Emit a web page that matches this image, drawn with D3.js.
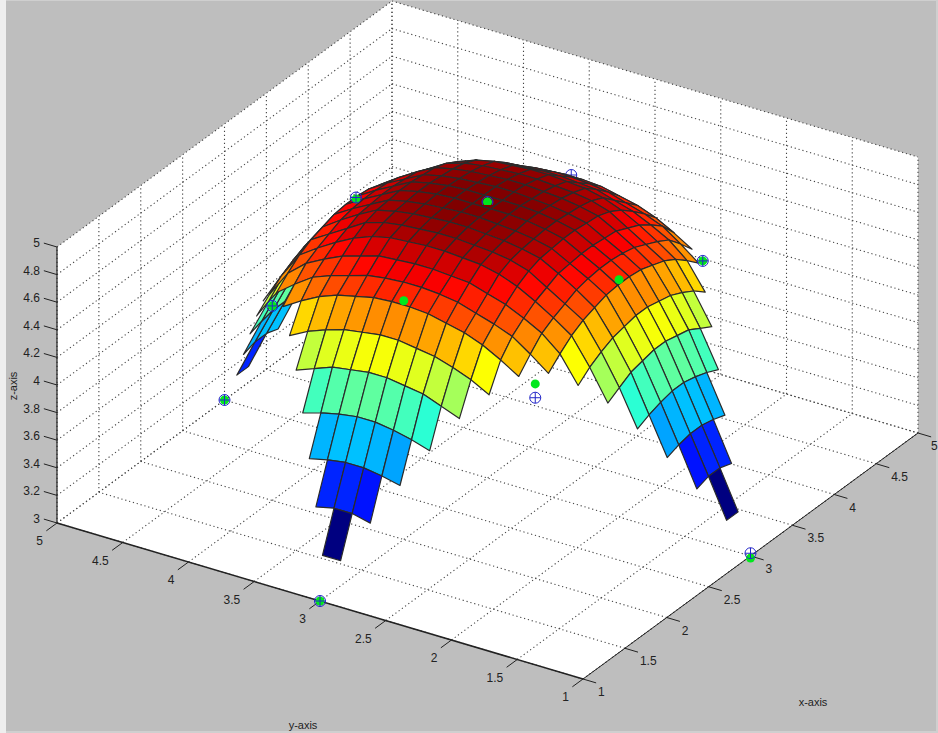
<!DOCTYPE html>
<html>
<head>
    <title>Surface</title>
    <script src="https://d3js.org/d3.v7.min.js"></script>
    <style>
        html, body { margin: 0; padding: 0; background: #cfcfcf; overflow: hidden; }
        text { font-family: "Liberation Sans", Arial, sans-serif; fill: #222; }
    </style>
</head>
<body>
    <div id="chart"></div>
    <script>
        const width = 938;
        const height = 733;

        const xTicks = [1, 1.5, 2, 2.5, 3, 3.5, 4, 4.5, 5];
        const yTicks = [1, 1.5, 2, 2.5, 3, 3.5, 4, 4.5, 5];
        const zTicks = [3, 3.2, 3.4, 3.6, 3.8, 4, 4.2, 4.4, 4.6, 4.8, 5];

        // one quarter of the surface, row = grid lines away from the middle in x,
        // column = grid lines away from the middle in y (grid is 30 x 30 over 1..5)
        const surfaceQuarter = [
            [5.00, 5.00, 4.99, 4.97, 4.94, 4.87, 4.80, 4.72, 4.54, 4.33, 4.07, 3.80, 3.53, 3.25],
            [5.00, 4.99, 4.98, 4.96, 4.93, 4.86, 4.79, 4.71, 4.52, 4.31, 4.05, 3.78, 3.50],
            [4.99, 4.98, 4.97, 4.95, 4.92, 4.85, 4.77, 4.68, 4.50, 4.29, 4.02, 3.75],
            [4.97, 4.96, 4.95, 4.93, 4.89, 4.81, 4.73, 4.65, 4.46, 4.24, 3.98],
            [4.94, 4.93, 4.92, 4.89, 4.84, 4.77, 4.69, 4.60, 4.41, 4.19],
            [4.87, 4.86, 4.85, 4.81, 4.77, 4.71, 4.64, 4.53, 4.34],
            [4.80, 4.79, 4.77, 4.73, 4.69, 4.64, 4.55, 4.45],
            [4.72, 4.71, 4.68, 4.65, 4.60, 4.53, 4.45],
            [4.54, 4.52, 4.50, 4.46, 4.41, 4.34],
            [4.33, 4.31, 4.29, 4.24, 4.19],
            [4.07, 4.05, 4.02, 3.98],
            [3.80, 3.78, 3.75],
            [3.53, 3.50],
            [3.25]
        ];
        const gridSize = 30;

        // measured points [x, y, z]
        const greenPoints = [[3, 5, 3], [2, 4, 4.41], [2, 3, 4.73], [3, 2, 4.72], [2, 2, 4.41], [1, 3, 3], [3, 1, 2.985], [4, 2, 4.41], [3, 4, 4.74]];
        const bluePoints = [[3, 5, 3], [3, 4, 4.75], [4, 2, 4.41], [2, 2, 4.31], [1, 3, 3], [3, 1, 3.02], [2, 4, 4.41]];
        const peakPoint = [3, 3, 5];
        const hiddenPoint = [4, 3, 4.75];

        const jetStops = [0, 0.125, 0.375, 0.625, 0.875, 1];
        const jetColors = ['#000080', '#0000ff', '#00ffff', '#ffff00', '#ff0000', '#800000'];

        // Box corners in the picture give the parallel projection
        const xToH = d3.scaleLinear().domain([1, 5]).range([0, 335]);
        const xToV = d3.scaleLinear().domain([1, 5]).range([0, -246]);
        const yToH = d3.scaleLinear().domain([1, 5]).range([0, -526]);
        const yToV = d3.scaleLinear().domain([1, 5]).range([0, -156]);
        const zToV = d3.scaleLinear().domain([3, 5]).range([0, -276]);
        const originX = 583;
        const originY = 679;

        function project(x, y, z) {
            return [originX + xToH(x) + yToH(y), originY + xToV(x) + yToV(y) + zToV(z)];
        }

        const gridToValue = d3.scaleLinear().domain([0, gridSize - 1]).range([1, 5]);
        const colorPos = d3.scaleLinear().domain([3.25, 5]).range([0, 1]);
        const jet = d3.scaleLinear().domain(jetStops).range(jetColors);

        function zAt(i, j) {
            const a = i < gridSize / 2 ? gridSize / 2 - 1 - i : i - gridSize / 2;
            const b = j < gridSize / 2 ? gridSize / 2 - 1 - j : j - gridSize / 2;
            const row = surfaceQuarter[a];
            return row && row[b] !== undefined ? row[b] : null;
        }

        const svg = d3.select('#chart')
            .append('svg')
            .attr('width', width)
            .attr('height', height)
            .style('display', 'block');

        // Pale strip down the left side of the screenshot
        svg.append('rect')
            .attr('width', 6).attr('height', height)
            .attr('fill', '#eeeeee');
        svg.append('rect')
            .attr('x', 6).attr('y', 1)
            .attr('width', width - 8).attr('height', height - 3)
            .attr('fill', '#bebebe');

        // White walls and floor
        const outline = [project(1, 5, 3), project(1, 5, 5), project(5, 5, 5), project(5, 1, 5), project(5, 1, 3), project(1, 1, 3)];
        svg.append('polygon')
            .attr('points', outline.map(p => p.join(',')).join(' '))
            .attr('fill', '#fff');

        // Dotted grid
        const gridLines = [];
        xTicks.forEach(x => {
            gridLines.push([project(x, 1, 3), project(x, 5, 3)]);
            gridLines.push([project(x, 5, 3), project(x, 5, 5)]);
        });
        yTicks.forEach(y => {
            gridLines.push([project(1, y, 3), project(5, y, 3)]);
            gridLines.push([project(5, y, 3), project(5, y, 5)]);
        });
        zTicks.forEach(z => {
            gridLines.push([project(1, 5, z), project(5, 5, z)]);
            gridLines.push([project(5, 5, z), project(5, 1, z)]);
        });
        svg.append('g')
            .selectAll('line')
            .data(gridLines)
            .join('line')
            .attr('x1', d => d[0][0]).attr('y1', d => d[0][1])
            .attr('x2', d => d[1][0]).attr('y2', d => d[1][1])
            .attr('stroke', '#444')
            .attr('stroke-width', 1.1)
            .attr('stroke-dasharray', '1.2 2.8');

        function drawBlue(parent, p) {
            const c = project(p[0], p[1], p[2]);
            const g = parent.append('g')
                .attr('transform', `translate(${c[0]},${c[1]})`)
                .attr('fill', 'none')
                .attr('stroke', '#2326c8')
                .attr('stroke-width', 1);
            g.append('circle').attr('r', 5.5);
            g.append('line').attr('x1', -5.5).attr('x2', 5.5);
            g.append('line').attr('y1', -5.5).attr('y2', 5.5);
            return g;
        }

        function drawGreen(parent, p) {
            const c = project(p[0], p[1], p[2]);
            return parent.append('circle')
                .attr('cx', c[0]).attr('cy', c[1])
                .attr('r', 4.5)
                .attr('fill', '#00e81c');
        }

        // This one sticks out behind the top of the surface
        drawBlue(svg, hiddenPoint);

        // Surface cells, back to front; flat colour comes from the lowest index corner
        const cells = [];
        for (let i = gridSize - 2; i >= 0; i--) {
            for (let j = gridSize - 2; j >= 0; j--) {
                const z00 = zAt(i, j), z10 = zAt(i + 1, j), z11 = zAt(i + 1, j + 1), z01 = zAt(i, j + 1);
                if (z00 === null || z10 === null || z11 === null || z01 === null) continue;
                const x0 = gridToValue(i), x1 = gridToValue(i + 1);
                const y0 = gridToValue(j), y1 = gridToValue(j + 1);
                cells.push({
                    corners: [project(x0, y0, z00), project(x1, y0, z10), project(x1, y1, z11), project(x0, y1, z01)],
                    z: z00
                });
            }
        }
        svg.append('g')
            .selectAll('polygon')
            .data(cells)
            .join('polygon')
            .attr('points', d => d.corners.map(p => p.join(',')).join(' '))
            .attr('fill', d => jet(colorPos(d.z)))
            .attr('stroke', '#2b2b2b')
            .attr('stroke-width', 1.2)
            .attr('stroke-linejoin', 'round');

        // Solid axis lines
        const axisLines = [
            { a: project(1, 5, 3), b: project(1, 5, 5), w: 1.2 },
            { a: project(1, 5, 3), b: project(1, 1, 3), w: 1.5 },
            { a: project(1, 1, 3), b: project(5, 1, 3), w: 1 }
        ];
        xTicks.forEach(x => axisLines.push({ a: project(x, 1, 3), b: project(x, 0.9, 3), w: 1 }));
        yTicks.forEach(y => axisLines.push({ a: project(1, y, 3), b: project(0.873, y, 3), w: 1 }));
        zTicks.forEach(z => axisLines.push({ a: project(1, 5, z), b: project(1, 5.1, z), w: 1 }));
        svg.append('g')
            .selectAll('line')
            .data(axisLines)
            .join('line')
            .attr('x1', d => d.a[0]).attr('y1', d => d.a[1])
            .attr('x2', d => d.b[0]).attr('y2', d => d.b[1])
            .attr('stroke', '#222')
            .attr('stroke-width', d => d.w);

        // Tick labels
        const labels = svg.append('g').attr('font-size', 12);
        xTicks.forEach(x => {
            const p = project(x, 1, 3);
            labels.append('text').attr('x', Math.min(p[0] + 15, width - 7)).attr('y', p[1] + 17).text(x);
        });
        yTicks.forEach(y => {
            const p = project(1, y, 3);
            labels.append('text').attr('x', p[0] - 14).attr('y', p[1] + 22).attr('text-anchor', 'end').text(y);
        });
        zTicks.forEach(z => {
            const p = project(1, 5, z);
            labels.append('text').attr('x', p[0] - 17).attr('y', p[1]).attr('text-anchor', 'end').text(z);
        });

        // Markers on top of the surface
        const markers = svg.append('g');
        greenPoints.forEach(p => drawGreen(markers, p));
        bluePoints.forEach(p => drawBlue(markers, p));

        // The peak marker is half sunk in the surface
        const peak = project(peakPoint[0], peakPoint[1], peakPoint[2]);
        svg.append('clipPath').attr('id', 'peak-clip')
            .append('rect')
            .attr('x', peak[0] - 10).attr('y', peak[1] - 10)
            .attr('width', 20).attr('height', 13);
        const peakGroup = svg.append('g').attr('clip-path', 'url(#peak-clip)');
        drawBlue(peakGroup, peakPoint);
        drawGreen(peakGroup, peakPoint);

        // Axis titles
        svg.append('text').attr('x', 813).attr('y', 706).attr('font-size', 11).attr('text-anchor', 'middle').text('x-axis');
        svg.append('text').attr('x', 303).attr('y', 729).attr('font-size', 11).attr('text-anchor', 'middle').text('y-axis');
        svg.append('text')
            .attr('transform', 'translate(17,386) rotate(-90)')
            .attr('font-size', 11)
            .attr('text-anchor', 'middle')
            .text('z-axis');
    </script>
</body>
</html>
